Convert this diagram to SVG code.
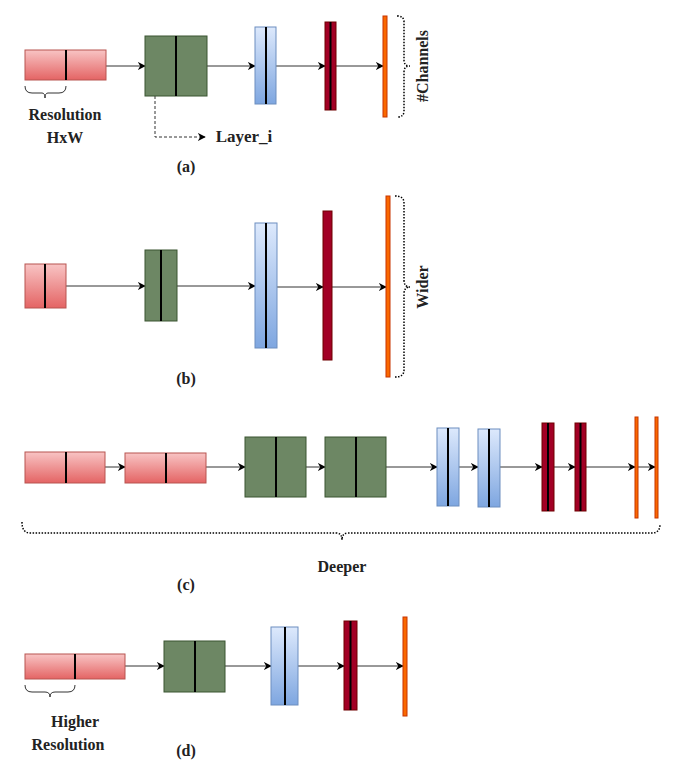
<svg xmlns="http://www.w3.org/2000/svg" width="683" height="778" viewBox="0 0 683 778">
<defs>
<linearGradient id="gp" x1="0" y1="0" x2="0" y2="1"><stop offset="0" stop-color="#f8c4c4"/><stop offset="1" stop-color="#e46464"/></linearGradient>
<linearGradient id="gb" x1="0" y1="0" x2="0" y2="1"><stop offset="0" stop-color="#dde9fc"/><stop offset="1" stop-color="#7ea6e0"/></linearGradient>
<marker id="ar" viewBox="0 0 10 10" refX="9" refY="5" markerWidth="8" markerHeight="8" orient="auto" markerUnits="userSpaceOnUse"><path d="M0,0 L10,5 L0,10 L3,5 z" fill="#000"/></marker>
</defs>
<style>
.p{fill:url(#gp);stroke:#b85450;stroke-width:1}
.g{fill:#6d8764;stroke:#3a5431;stroke-width:1}
.b{fill:url(#gb);stroke:#6c8ebf;stroke-width:1}
.r{fill:#a20025;stroke:#6f0000;stroke-width:1}
.o{fill:#fa6800;stroke:#c73500;stroke-width:1}
.d{stroke:#000;stroke-width:2}
.c{stroke:#333;stroke-width:1;fill:none;marker-end:url(#ar)}
.br{fill:none;stroke:#000;stroke-width:1.5;stroke-dasharray:1.5 1.5}
.bs{fill:none;stroke:#333;stroke-width:1}
text{font-family:"Liberation Serif",serif;font-weight:bold;font-size:16px;fill:#222;text-anchor:middle}
</style>
<rect width="683" height="778" fill="#fff"/>
<g id="connectors">
<line class="c" x1="106" y1="66" x2="145" y2="66"/>
<line class="c" x1="207" y1="66" x2="255" y2="66"/>
<line class="c" x1="276" y1="66" x2="325" y2="66"/>
<line class="c" x1="336" y1="66" x2="383" y2="66"/>
<path class="c" d="M155,96 V137 H205" stroke-dasharray="3 2"/>
<line class="c" x1="66" y1="286" x2="145" y2="286"/>
<line class="c" x1="177" y1="286" x2="255" y2="286"/>
<line class="c" x1="277" y1="287" x2="323" y2="287"/>
<line class="c" x1="332" y1="287" x2="386" y2="287"/>
<line class="c" x1="105" y1="467" x2="125" y2="467"/>
<line class="c" x1="206" y1="467" x2="245" y2="467"/>
<line class="c" x1="306" y1="467" x2="325" y2="467"/>
<line class="c" x1="386" y1="467" x2="437" y2="467"/>
<line class="c" x1="459" y1="467" x2="478" y2="467"/>
<line class="c" x1="500" y1="467" x2="542" y2="467"/>
<line class="c" x1="554" y1="467" x2="575" y2="467"/>
<line class="c" x1="586" y1="467" x2="635" y2="467"/>
<line class="c" x1="638" y1="467" x2="655" y2="467"/>
<line class="c" x1="125" y1="666" x2="164" y2="666"/>
<line class="c" x1="225" y1="666" x2="271" y2="666"/>
<line class="c" x1="298" y1="666" x2="344" y2="666"/>
<line class="c" x1="357" y1="666" x2="403" y2="666"/>
</g>
<g id="a">
<g id="a-pink"><rect class="p" x="25" y="50" width="81" height="30"/><line class="d" x1="66" y1="50" x2="66" y2="80"/></g>
<g id="a-green"><rect class="g" x="145" y="36" width="62" height="60"/><line class="d" x1="176" y1="36" x2="176" y2="96"/></g>
<g id="a-blue"><rect class="b" x="255" y="27" width="21" height="77"/><line class="d" x1="266" y1="27" x2="266" y2="104"/></g>
<g id="a-red"><rect class="r" x="325" y="22" width="11" height="88"/><line class="d" x1="330.5" y1="22" x2="330.5" y2="110"/></g>
<g id="a-orange"><rect class="o" x="383" y="16" width="4" height="101"/></g>
<path class="br" d="M397,16 Q404,16 404,22 V60 Q404,66 410,66 Q404,66 404,72 V111 Q404,117 397,117"/>
<path class="bs" d="M25,86 Q25,93 32,93 H42 Q45,93 45,98 Q45,93 48,93 H59 Q66,93 66,86"/>
<text x="65" y="120">Resolution</text>
<text x="65" y="143">HxW</text>
<text x="244" y="142" style="font-size:17px">Layer_i</text>
<text transform="translate(428,66) rotate(-90)">#Channels</text>
<text x="186" y="172">(a)</text>
</g>
<g id="b">
<g id="b-pink"><rect class="p" x="25" y="264" width="41" height="44"/><line class="d" x1="45" y1="264" x2="45" y2="308"/></g>
<g id="b-green"><rect class="g" x="145" y="250" width="32" height="71"/><line class="d" x1="161" y1="250" x2="161" y2="321"/></g>
<g id="b-blue"><rect class="b" x="255" y="223" width="22" height="125"/><line class="d" x1="266" y1="223" x2="266" y2="348"/></g>
<g id="b-red"><rect class="r" x="323" y="211" width="9" height="149"/></g>
<g id="b-orange"><rect class="o" x="386" y="196" width="4" height="181"/></g>
<path class="br" d="M395,196 Q404,196 404,203 V280 Q404,287 410,287 Q404,287 404,294 V370 Q404,377 395,377"/>
<text transform="translate(428,287) rotate(-90)">Wider</text>
<text x="186" y="384">(b)</text>
</g>
<g id="c">
<g id="c-pink1"><rect class="p" x="25" y="452" width="80" height="31"/><line class="d" x1="66" y1="452" x2="66" y2="483"/></g>
<g id="c-pink2"><rect class="p" x="125" y="453" width="81" height="30"/><line class="d" x1="166" y1="453" x2="166" y2="483"/></g>
<g id="c-green1"><rect class="g" x="245" y="437" width="61" height="60"/><line class="d" x1="276" y1="437" x2="276" y2="497"/></g>
<g id="c-green2"><rect class="g" x="325" y="437" width="61" height="60"/><line class="d" x1="356" y1="437" x2="356" y2="497"/></g>
<g id="c-blue1"><rect class="b" x="437" y="428" width="22" height="78"/><line class="d" x1="448" y1="428" x2="448" y2="506"/></g>
<g id="c-blue2"><rect class="b" x="478" y="429" width="22" height="78"/><line class="d" x1="489" y1="429" x2="489" y2="507"/></g>
<g id="c-red1"><rect class="r" x="542" y="423" width="12" height="88"/><line class="d" x1="548" y1="423" x2="548" y2="511"/></g>
<g id="c-red2"><rect class="r" x="575" y="423" width="11" height="88"/><line class="d" x1="580.5" y1="423" x2="580.5" y2="511"/></g>
<g id="c-orange1"><rect class="o" x="635" y="417" width="3" height="101"/></g>
<g id="c-orange2"><rect class="o" x="655" y="417" width="3" height="101"/></g>
<path class="br" d="M22,522 Q22,533 30,533 H336 Q342,533 342,540 Q342,533 348,533 H652 Q660,533 660,524"/>
<text x="342" y="572">Deeper</text>
<text x="186" y="590">(c)</text>
</g>
<g id="d">
<g id="d-pink"><rect class="p" x="25" y="654" width="100" height="25"/><line class="d" x1="75" y1="654" x2="75" y2="679"/></g>
<g id="d-green"><rect class="g" x="164" y="641" width="61" height="51"/><line class="d" x1="195" y1="641" x2="195" y2="692"/></g>
<g id="d-blue"><rect class="b" x="271" y="627" width="27" height="78"/><line class="d" x1="285" y1="627" x2="285" y2="705"/></g>
<g id="d-red"><rect class="r" x="344" y="621" width="13" height="89"/><line class="d" x1="350.5" y1="621" x2="350.5" y2="710"/></g>
<g id="d-orange"><rect class="o" x="403" y="617" width="4" height="99"/></g>
<path class="bs" d="M25,685 Q25,692 32,692 H45 Q50,692 50,697 Q50,692 55,692 H68 Q75,692 75,685"/>
<text x="75" y="727">Higher</text>
<text x="68" y="750">Resolution</text>
<text x="186" y="756">(d)</text>
</g>
</svg>
